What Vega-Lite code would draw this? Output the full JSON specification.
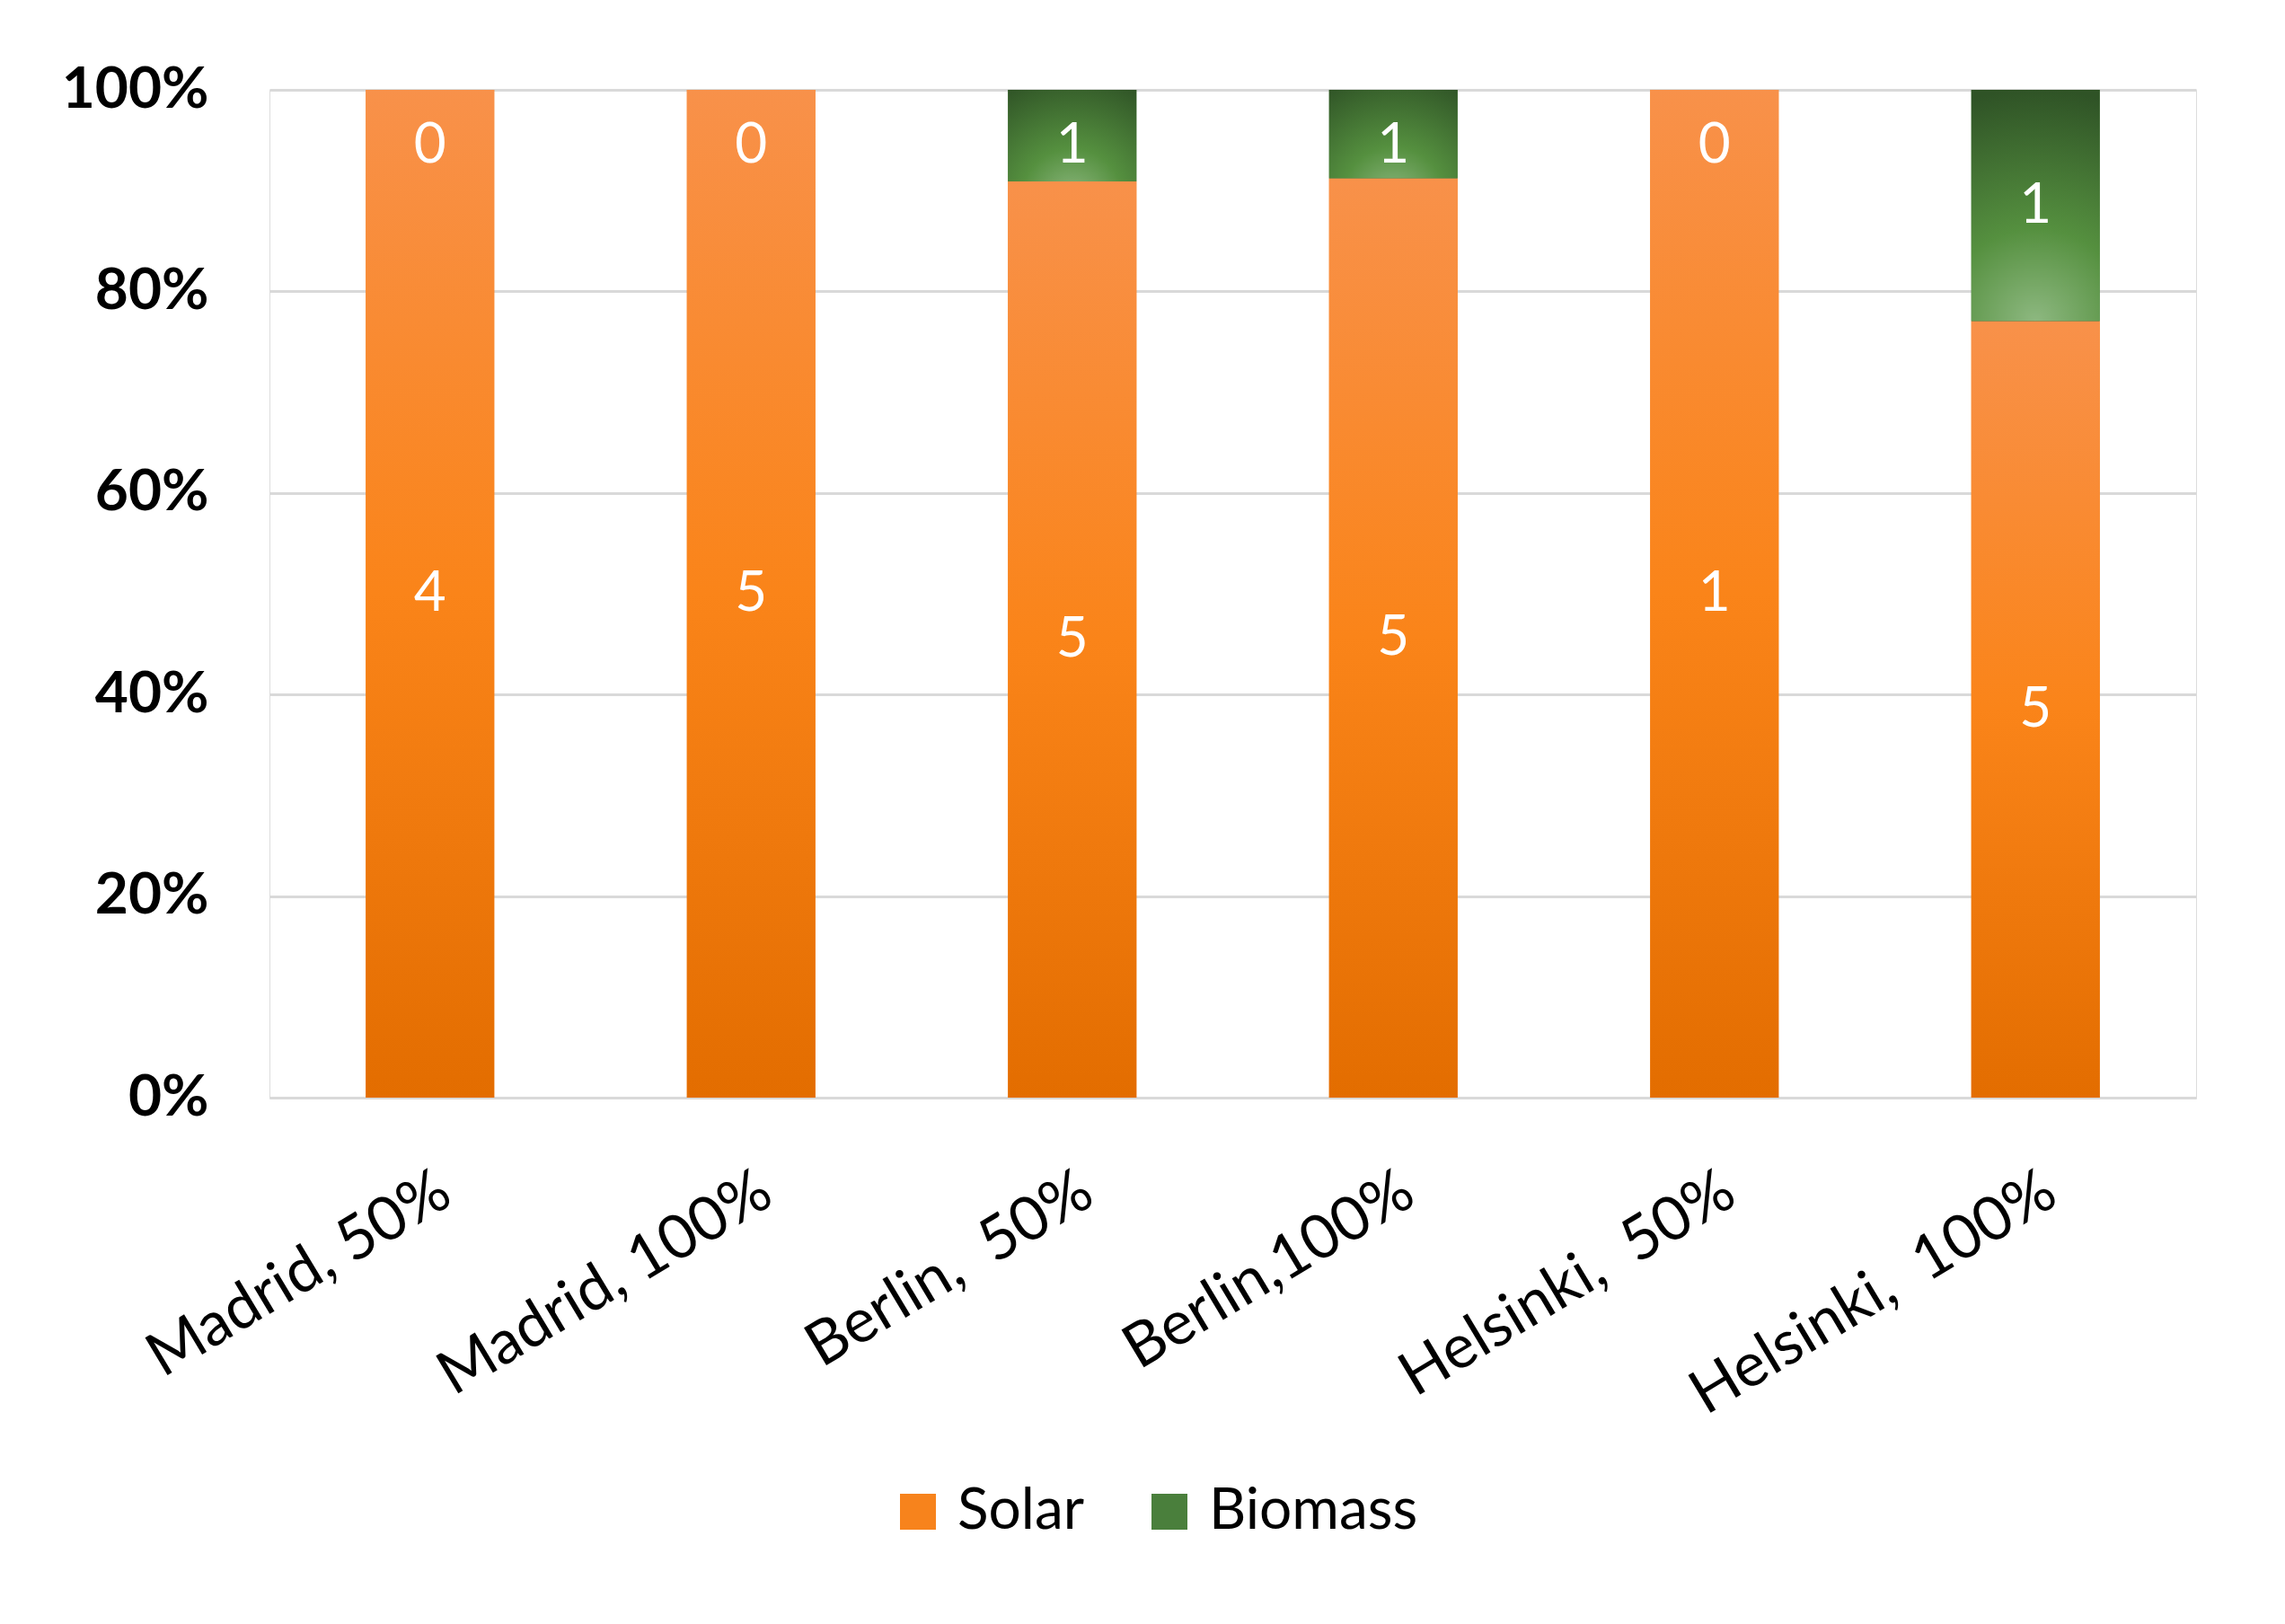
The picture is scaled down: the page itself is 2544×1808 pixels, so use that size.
{
  "$schema": "https://vega.github.io/schema/vega-lite/v6.json",
  "autosize": "none",
  "width": 2145,
  "height": 1122,
  "padding": {"left": 300, "top": 100, "right": 99, "bottom": 586},
  "background": "white",
  "data": {
    "values": [
      {"Scenario": "Madrid, 50%", "Source": "Solar", "Value": 4.2},
      {"Scenario": "Madrid, 50%", "Source": "Biomass", "Value": 0},
      {"Scenario": "Madrid, 100%", "Source": "Solar", "Value": 5.1},
      {"Scenario": "Madrid, 100%", "Source": "Biomass", "Value": 0},
      {"Scenario": "Berlin,  50%", "Source": "Solar", "Value": 5.2},
      {"Scenario": "Berlin,  50%", "Source": "Biomass", "Value": 0.52},
      {"Scenario": "Berlin,100%", "Source": "Solar", "Value": 5.4},
      {"Scenario": "Berlin,100%", "Source": "Biomass", "Value": 0.52},
      {"Scenario": "Helsinki,  50%", "Source": "Solar", "Value": 1.2},
      {"Scenario": "Helsinki,  50%", "Source": "Biomass", "Value": 0},
      {"Scenario": "Helsinki,  100%", "Source": "Solar", "Value": 4.7},
      {"Scenario": "Helsinki,  100%", "Source": "Biomass", "Value": 1.4}
    ]
  },
  "transform": [
    {"stack": "Value", "groupby": ["Scenario"], "sort": [{"field": "Source", "order": "descending"}], "offset": "normalize", "as": ["y0", "y1"]},
    {"calculate": "min((datum.y0 + datum.y1) / 2, 0.945)", "as": "ymid"}
  ],
  "encoding": {
    "x": {
      "field": "Scenario", "type": "nominal", "sort": null, "title": null,
      "scale": {"paddingInner": 0.6, "paddingOuter": 0.3},
      "axis": {
        "labelExpr": "replace(datum.label, '  ', ' \u00a0')",
        "labelAngle": -31, "labelAlign": "right", "labelBaseline": "top", "labelLimit": 0,
        "labelPadding": 70, "labelFontSize": 68, "labelFont": "Lato", "labelColor": "#000000",
        "ticks": false, "grid": false, "domain": true, "domainColor": "#D9D9D9", "domainWidth": 3
      }
    }
  },
  "layer": [
    {
      "mark": {"type": "bar"},
      "encoding": {
        "y": {
          "field": "y0", "type": "quantitative", "title": null,
          "scale": {"domain": [0, 1]},
          "axis": {
            "values": [0, 0.2, 0.4, 0.6, 0.8, 1], "format": ".0%",
            "labelFontSize": 64, "labelFont": "Lato", "labelFontWeight": "bold", "labelColor": "#000000",
            "labelPadding": 68, "ticks": false, "domain": false,
            "grid": true, "gridColor": "#D9D9D9", "gridWidth": 3
          }
        },
        "y2": {"field": "y1"},
        "color": {
          "field": "Source", "type": "nominal", "title": null,
          "scale": {"domain": ["Solar", "Biomass"], "range": ["#F7831C", "#4A7F3C"]},
          "legend": {
            "orient": "none", "direction": "horizontal", "legendX": 690, "legendY": 1551,
            "symbolType": "square", "symbolSize": 1600, "symbolStrokeWidth": 0,
            "labelFontSize": 64, "labelFont": "Lato", "labelColor": "#000000", "labelLimit": 0,
            "labelOffset": 12, "columnPadding": 62, "padding": 0
          }
        }
      }
    },
    {
      "mark": {"type": "bar"},
      "encoding": {
        "y": {"field": "y0", "type": "quantitative"},
        "y2": {"field": "y1"},
        "fill": {
          "condition": {
            "test": "datum.Source === 'Solar'",
            "value": {
              "gradient": "linear", "x1": 0, "y1": 0, "x2": 0, "y2": 1,
              "stops": [
                {"offset": 0, "color": "#F8914A"},
                {"offset": 0.5, "color": "#FA8419"},
                {"offset": 1, "color": "#E36D00"}
              ]
            }
          },
          "value": {
            "gradient": "radial", "x1": 0.5, "y1": 1, "r1": 0, "x2": 0.5, "y2": 1, "r2": 1,
            "stops": [
              {"offset": 0, "color": "#8DB880"},
              {"offset": 0.4, "color": "#55903F"},
              {"offset": 1, "color": "#2F5326"}
            ]
          }
        }
      }
    },
    {
      "mark": {"type": "text", "font": "Lato", "fontSize": 62, "color": "white", "baseline": "middle"},
      "encoding": {
        "y": {"field": "ymid", "type": "quantitative"},
        "text": {"field": "Value", "type": "quantitative", "format": ".0f"}
      }
    }
  ]
}
